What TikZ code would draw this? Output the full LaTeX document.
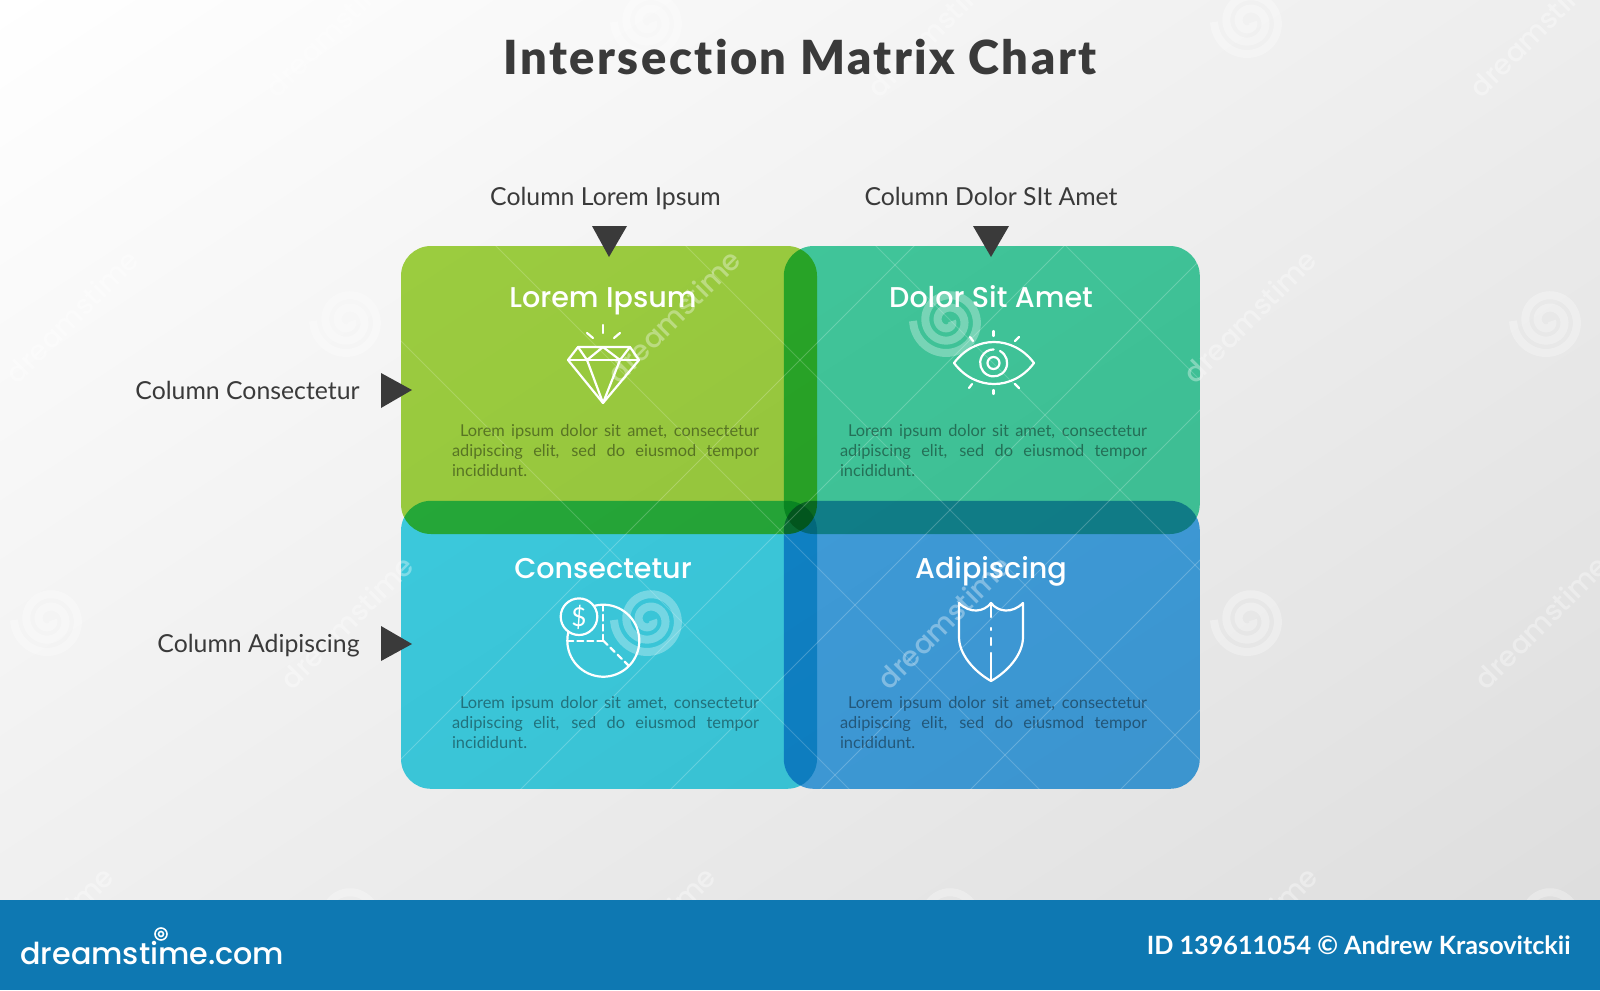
\documentclass[tikz,border=0pt]{standalone}
\usepackage{fontspec}
\usepackage{xcolor}
\usetikzlibrary{positioning, calc, shadings}
\setmainfont{Lato}
\newfontfamily\headfont{Poppins Medium}
\newfontfamily\titlefont[LetterSpace=5.3, Ligatures=NoCommon]{Lato Black}
\definecolor{matrixgreen}{HTML}{A1D442}
\definecolor{matrixteal}{HTML}{44D0A2}
\definecolor{matrixcyan}{HTML}{3FD4E8}
\definecolor{matrixblue}{HTML}{43A6E7}
\definecolor{matrixdark}{HTML}{3A3A3A}
\definecolor{matrixbar}{HTML}{0E78B2}
\newcommand{\loremtext}{\hspace*{4pt}Lorem ipsum dolor sit amet, consectetur\linebreak adipiscing elit, sed do eiusmod tempor\linebreak incididunt.}

\begin{document}
\begin{tikzpicture}[x=0.5pt, y=-0.5pt,
  box/.style={rounded corners=15pt, minimum width=208pt, minimum height=144pt, inner sep=0pt},
  head/.style={text=white, anchor=base, font=\headfont\fontsize{14.3}{16}\selectfont, inner sep=0pt},
  para/.style={text=black, text opacity=0.42, text width=153.5pt, align=justify, inner sep=0pt,
    font=\fontsize{8.2}{10}\selectfont},
  collabel/.style={text=matrixdark, font=\fontsize{12.4}{15}\selectfont, inner sep=0pt},
  pointer/.style={fill=matrixdark, draw=none},
  icon/.style={draw=white, line width=1.1pt, line cap=round, line join=round},
  wmark/.style={white, opacity=0.3, line width=4pt}]
  \useasboundingbox (0,0) rectangle (1600,990);
  \shade[upper left=white, upper right=black!7, lower left=black!6, lower right=black!13] (0,0) rectangle (1600,900);

  % the four cards, multiplied where they overlap
  \begin{scope}[blend mode=multiply]
    \node[box, fill=matrixgreen] (lorem) at (609,390) {};
    \node[box, fill=matrixteal, right=-17pt of lorem] (dolor) {};
    \node[box, fill=matrixcyan, below=-17pt of lorem] (consect) {};
    \node[box, fill=matrixblue, right=-17pt of consect] (adipis) {};
  \end{scope}

  % watermark
  \foreach \wx/\wy in {49/22, 649/22, 1249/22, 348/321, 948/321, 1548/321, 49/620, 649/620, 1249/620, 348/918, 948/918, 1548/918}
    \draw[wmark, shift={(\wx,\wy)}] plot[domain=0:900, samples=70, smooth] ({(4+\x/29)*cos(\x)},{(4+\x/29)*sin(\x)});
  \foreach \wx/\wy in {332/30, 934/30, 1536/30, 72/316, 674/316, 1250/316, 347/622, 944/622, 1541/622, 47/933, 649/933, 1251/933}
    \node[white, opacity=0.35, rotate=45, font=\headfont\fontsize{14}{18}\selectfont, inner sep=0pt] (wm\wx\wy) at (\wx,\wy) {dreamstime};
  \begin{scope}
    \clip (lorem.north west) rectangle (adipis.south east);
    \foreach \k in {0,...,7}
      \draw[white, opacity=0.22, line width=0.5pt] (360+\k*150,800) -- ++(600,-600);
    \foreach \k in {0,...,5}
      \draw[white, opacity=0.18, line width=0.5pt] (300+\k*190,240) -- ++(560,560);
  \end{scope}

  \node[font=\titlefont\fontsize{23.5}{26}\selectfont, text=matrixdark, inner sep=0pt] (title) at (800,57) {Intersection Matrix Chart};

  \node[collabel, anchor=base] (collorem) at (605.5,205) {Column Lorem Ipsum};
  \node[collabel, anchor=base] (coldolor) at (991,205) {Column Dolor SIt Amet};
  \node[collabel, anchor=base east] (colconsect) at (360,399) {Column Consectetur};
  \node[collabel, anchor=base east] (coladipis) at (360,652) {Column Adipiscing};

  \draw[pointer] (592,226) -- (627,226) -- (609,257) -- cycle;
  \draw[pointer] (973,226) -- (1009,226) -- (991,257) -- cycle;
  \draw[pointer] (381,373) -- (412,390) -- (381,408) -- cycle;
  \draw[pointer] (381,626) -- (412,644) -- (381,661) -- cycle;

  \node[head] (loremhead) at (603,307) {Lorem Ipsum};
  \node[head] (dolorhead) at (991,307) {Dolor Sit Amet};
  \node[head] (consecthead) at (603,578) {Consectetur};
  \node[head] (adipishead) at (991,578) {Adipiscing};

  \node[para] (loremtext) at (605.5,451) {\loremtext};
  \node[para] (dolortext) at (993.5,451) {\loremtext};
  \node[para] (consecttext) at (605.5,723) {\loremtext};
  \node[para] (adipistext) at (993.5,723) {\loremtext};

  % diamond
  \draw[icon] (578,347) -- (630,347) -- (639,360) -- (603,403) -- (568,360) -- cycle;
  \draw[icon] (568,360) -- (639,360);
  \draw[icon] (578,347) -- (587,360) -- (603,347) -- (620,360) -- (630,347);
  \draw[icon] (587,360) -- (603,403) -- (620,360);
  \draw[icon] (603,325) -- (603,333);
  \draw[icon] (587,333) -- (593,338);
  \draw[icon] (620,333) -- (614,338);

  % eye
  \draw[icon] (954,363) .. controls (975,335) and (1013,335) .. (1034,363) .. controls (1013,391) and (975,391) .. cycle;
  \draw[icon] (993.5,363) circle[radius=6];
  \draw[icon] (1000,351) arc (-62:270:13.5);
  \draw[icon] (993.5,331) -- (993.5,336);
  \draw[icon] (970,337) -- (973,341);
  \draw[icon] (1019,337) -- (1015,341);
  \draw[icon] (993.5,390) -- (993.5,394);
  \draw[icon] (969,388) -- (972,384);
  \draw[icon] (1019,388) -- (1015,384);

  % coin and pie
  \draw[icon] (603.3,640.7) ++(-105:36) arc (-105:195:36);
  \draw[icon] (579,616.7) circle[radius=18.3];
  \node[text=white, font=\fontsize{13}{15}\selectfont, inner sep=0pt] (coinsign) at (579,617) {\$};
  \draw[icon, dash pattern=on 3pt off 2pt] (603.3,640.7) -- (603.3,606);
  \draw[icon, dash pattern=on 3pt off 2pt] (603.3,640.7) -- (568,640.7);
  \draw[icon, dash pattern=on 3pt off 2pt] (603.3,640.7) -- (628,665);

  % shield
  \draw[icon] (991,603) .. controls (998,612) and (1012,614) .. (1023,603) -- (1023,637)
    .. controls (1023,655) and (1007,672) .. (991,681)
    .. controls (975,672) and (959,655) .. (959,637) -- (959,603)
    .. controls (970,614) and (984,612) .. cycle;
  \draw[icon] (991,603) -- (991,617);
  \draw[icon] (991,628) -- (991,630);
  \draw[icon] (991,638) -- (991,645);
  \draw[icon] (991,653) -- (991,681);

  % footer
  \fill[matrixbar] (0,900) rectangle (1600,990);
  \node[anchor=west, text=white, font=\headfont\fontsize{15.1}{20}\selectfont, inner sep=0pt] (logo) at (20,953) {dreamstime.com};
  \draw[white, line width=0.8pt] (161,934) circle[radius=6];
  \draw[white, line width=0.8pt] (161,934) circle[radius=2.5];
  \node[anchor=east, text=white, font=\bfseries\fontsize{12.6}{15}\selectfont, inner sep=0pt] (credit) at (1571,945) {ID 139611054 © Andrew Krasovitckii};
\end{tikzpicture}
\end{document}
